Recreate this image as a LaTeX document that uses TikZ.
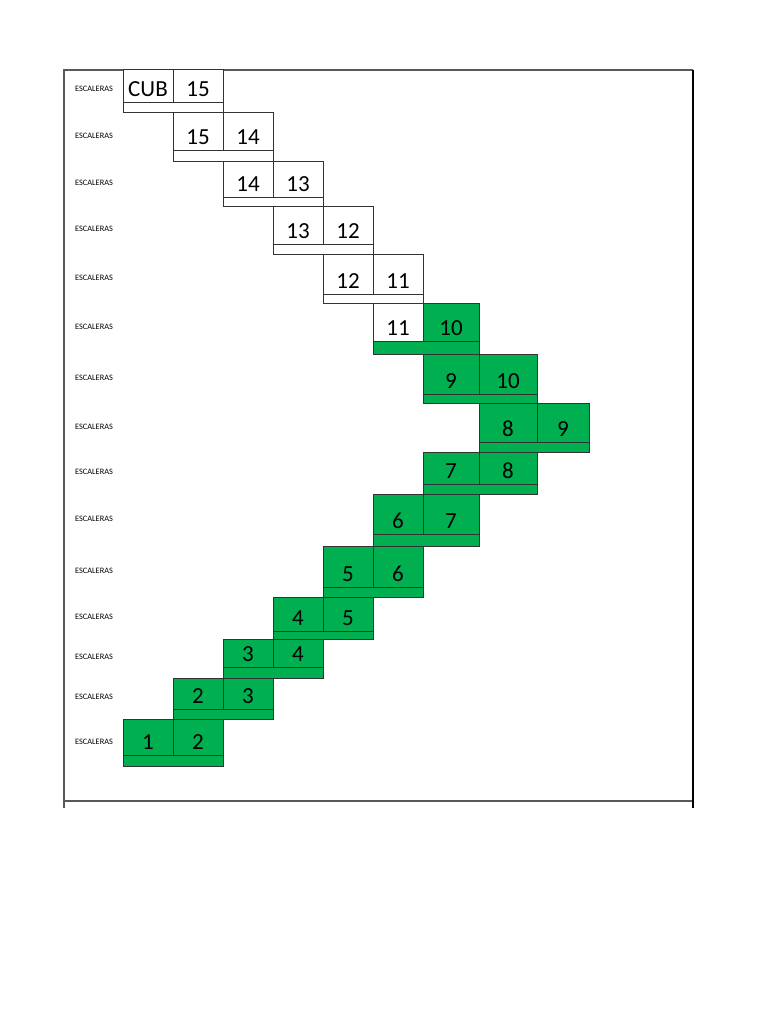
\documentclass[tikz,border=0pt]{standalone}
\usepackage{fontspec}
\setmainfont{Carlito}
\definecolor{verde}{HTML}{00B050}
\tikzset{
  celda/.style={draw=black!80, line width=1pt},
  num/.style={font=\fontsize{23}{23}\selectfont, anchor=base, inner sep=0pt},
  rotulo/.style={font=\fontsize{8.3}{8.3}\selectfont, anchor=west, inner sep=0pt},
}
\begin{document}
\begin{tikzpicture}[x=1pt,y=-1pt]
\useasboundingbox (0,0) rectangle (768,1024);
% marco
\draw[black!65, line width=1.1pt] (64,808)--(64,70)--(693,70);
\draw[black!65, line width=1.1pt] (64,801)--(693,801);
\draw[black, line width=1.7pt] (693,70)--(693,808);
% escalones: fila / arriba / abajo celda / abajo franja / y rotulo / x1 / x2 / x3 / textos / rellenos
\foreach \n/\ya/\yb/\yc/\ye/\xa/\xb/\xc/\ta/\tb/\fa/\fb/\fs in {
  1/70/103/113/89/123/173/223/CUB/15/white/white/white,
  2/113/151/162/136/173/223/273/15/14/white/white/white,
  3/162/198/207/183/223/273/323/14/13/white/white/white,
  4/207/244/254/229/273/323/373/13/12/white/white/white,
  5/254/294/303/278/323/373/423/12/11/white/white/white,
  6/303/341/354/327/373/423/479/11/10/white/verde/verde,
  7/354/394/403/378/423/479/537/9/10/verde/verde/verde,
  8/403/442/452/427/479/537/589/8/9/verde/verde/verde,
  9/452/484/494/472/423/479/537/7/8/verde/verde/verde,
  10/494/534/546/519/373/423/479/6/7/verde/verde/verde,
  11/546/587/597/571/323/373/423/5/6/verde/verde/verde,
  12/597/631/639/617/273/323/373/4/5/verde/verde/verde,
  13/639/667/678/657/223/273/323/3/4/verde/verde/verde,
  14/678/709/719/697/173/223/273/2/3/verde/verde/verde,
  15/719/755/766/742/123/173/223/1/2/verde/verde/verde}{
  \filldraw[celda, fill=\fa] (\xa,\ya) rectangle (\xb,\yb);
  \filldraw[celda, fill=\fb] (\xb,\ya) rectangle (\xc,\yb);
  \filldraw[celda, fill=\fs] (\xa,\yb) rectangle (\xc,\yc);
  \node[num] (n\n a) at ({(\xa+\xb)/2},{\yb-6}) {\ta};
  \node[num] (n\n b) at ({(\xb+\xc)/2},{\yb-6}) {\tb};
  \node[rotulo] (e\n) at (75,\ye) {ESCALERAS};
}
\end{tikzpicture}
\end{document}
